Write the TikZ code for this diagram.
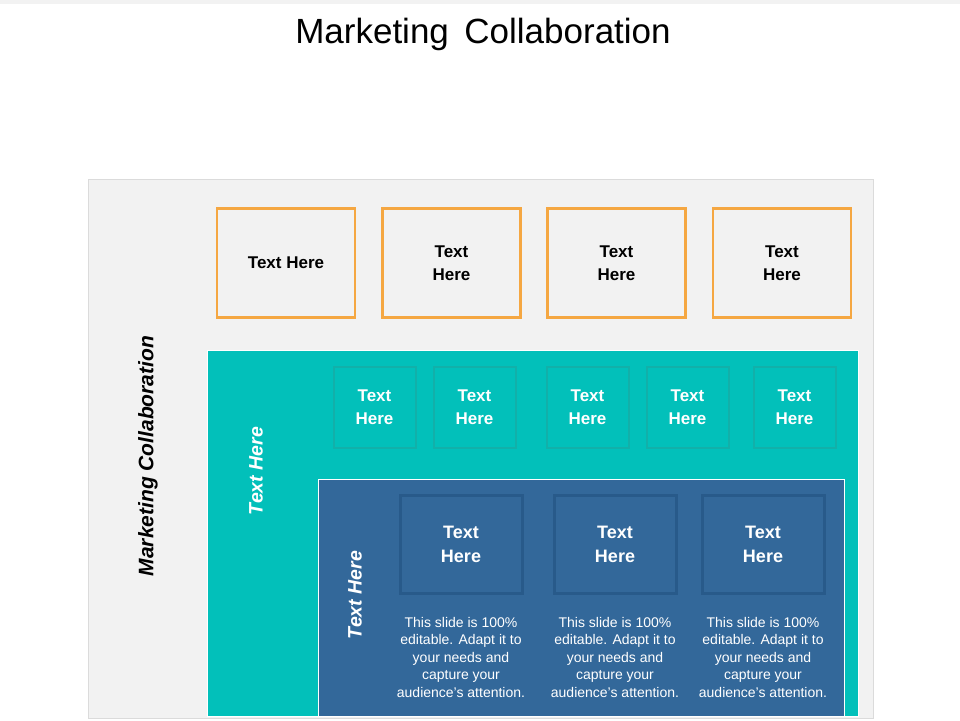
\documentclass[tikz,border=0pt]{standalone}
\usepackage{fontspec}
\setmainfont{Liberation Sans}
\usetikzlibrary{positioning}
\definecolor{panelgray}{HTML}{F2F2F2}
\definecolor{boxorange}{HTML}{F5A742}
\definecolor{tealfill}{HTML}{02C0BA}
\definecolor{tealline}{HTML}{12B0A9}
\definecolor{bluefill}{HTML}{33689A}
\definecolor{blueline}{HTML}{285A8A}
\tikzset{
  orangebox/.style={draw=boxorange, line width=2.5pt, fill=panelgray, minimum width=138pt, minimum height=109pt, align=center, font=\fontsize{17}{23}\selectfont\bfseries},
  tealbox/.style={draw=tealline, line width=2pt, minimum width=82pt, minimum height=81pt, align=center, text=white, font=\fontsize{17}{23}\selectfont\bfseries},
  bluebox/.style={draw=blueline, line width=3pt, minimum width=122pt, minimum height=98pt, align=center, text=white, font=\fontsize{18}{24}\selectfont\bfseries},
  desc/.style={text=white, align=center, font=\fontsize{14}{17.5}\selectfont},
  sidelabel/.style={rotate=90, font=\fontsize{19.5}{22}\selectfont\bfseries\itshape}
}
\begin{document}
\begin{tikzpicture}[x=1pt,y=-1pt]
  \useasboundingbox (0,0) rectangle (960,720);
  \fill[panelgray] (0,0) rectangle (960,4);
  \node (title) at (483,34) {\fontsize{35}{40}\selectfont Marketing\, Collaboration};
  % panels
  \draw[panelgray!80!gray, fill=panelgray] (88,179) rectangle (873,718);
  \draw[white, fill=tealfill] (207,350) rectangle (858,716);
  \draw[white, fill=bluefill] (318,479) rectangle (844,716);
  \node[sidelabel, font=\fontsize{21}{24}\selectfont\bfseries\itshape] (mc) at (148,456) {Marketing Collaboration};
  \node[sidelabel, text=white] (tt) at (256,471) {Text Here};
  \node[sidelabel, text=white] (tb) at (355,595) {Text Here};
  % orange row
  \node[orangebox] (o1) at (286,263) {Text Here};
  \foreach \x/\n in {451.5/o2, 616.5/o3, 782/o4}
    \node[orangebox] (\n) at (\x,263) {Text\\Here};
  % teal row
  \foreach \x/\n in {374.5/t1, 474.5/t2, 587.5/t3, 687.5/t4, 794.5/t5}
    \node[tealbox] (\n) at (\x,407) {Text\\Here};
  % blue row
  \foreach \x/\n in {461/b1, 615/b2, 763/b3}
    \node[bluebox] (\n) at (\x,544) {Text\\Here};
  \foreach \n in {b1,b2,b3}
    \node[desc, below=19pt of \n] (d\n) {This slide is 100\%\\editable. Adapt it to\\your needs and\\capture your\\audience's attention.};
\end{tikzpicture}
\end{document}
